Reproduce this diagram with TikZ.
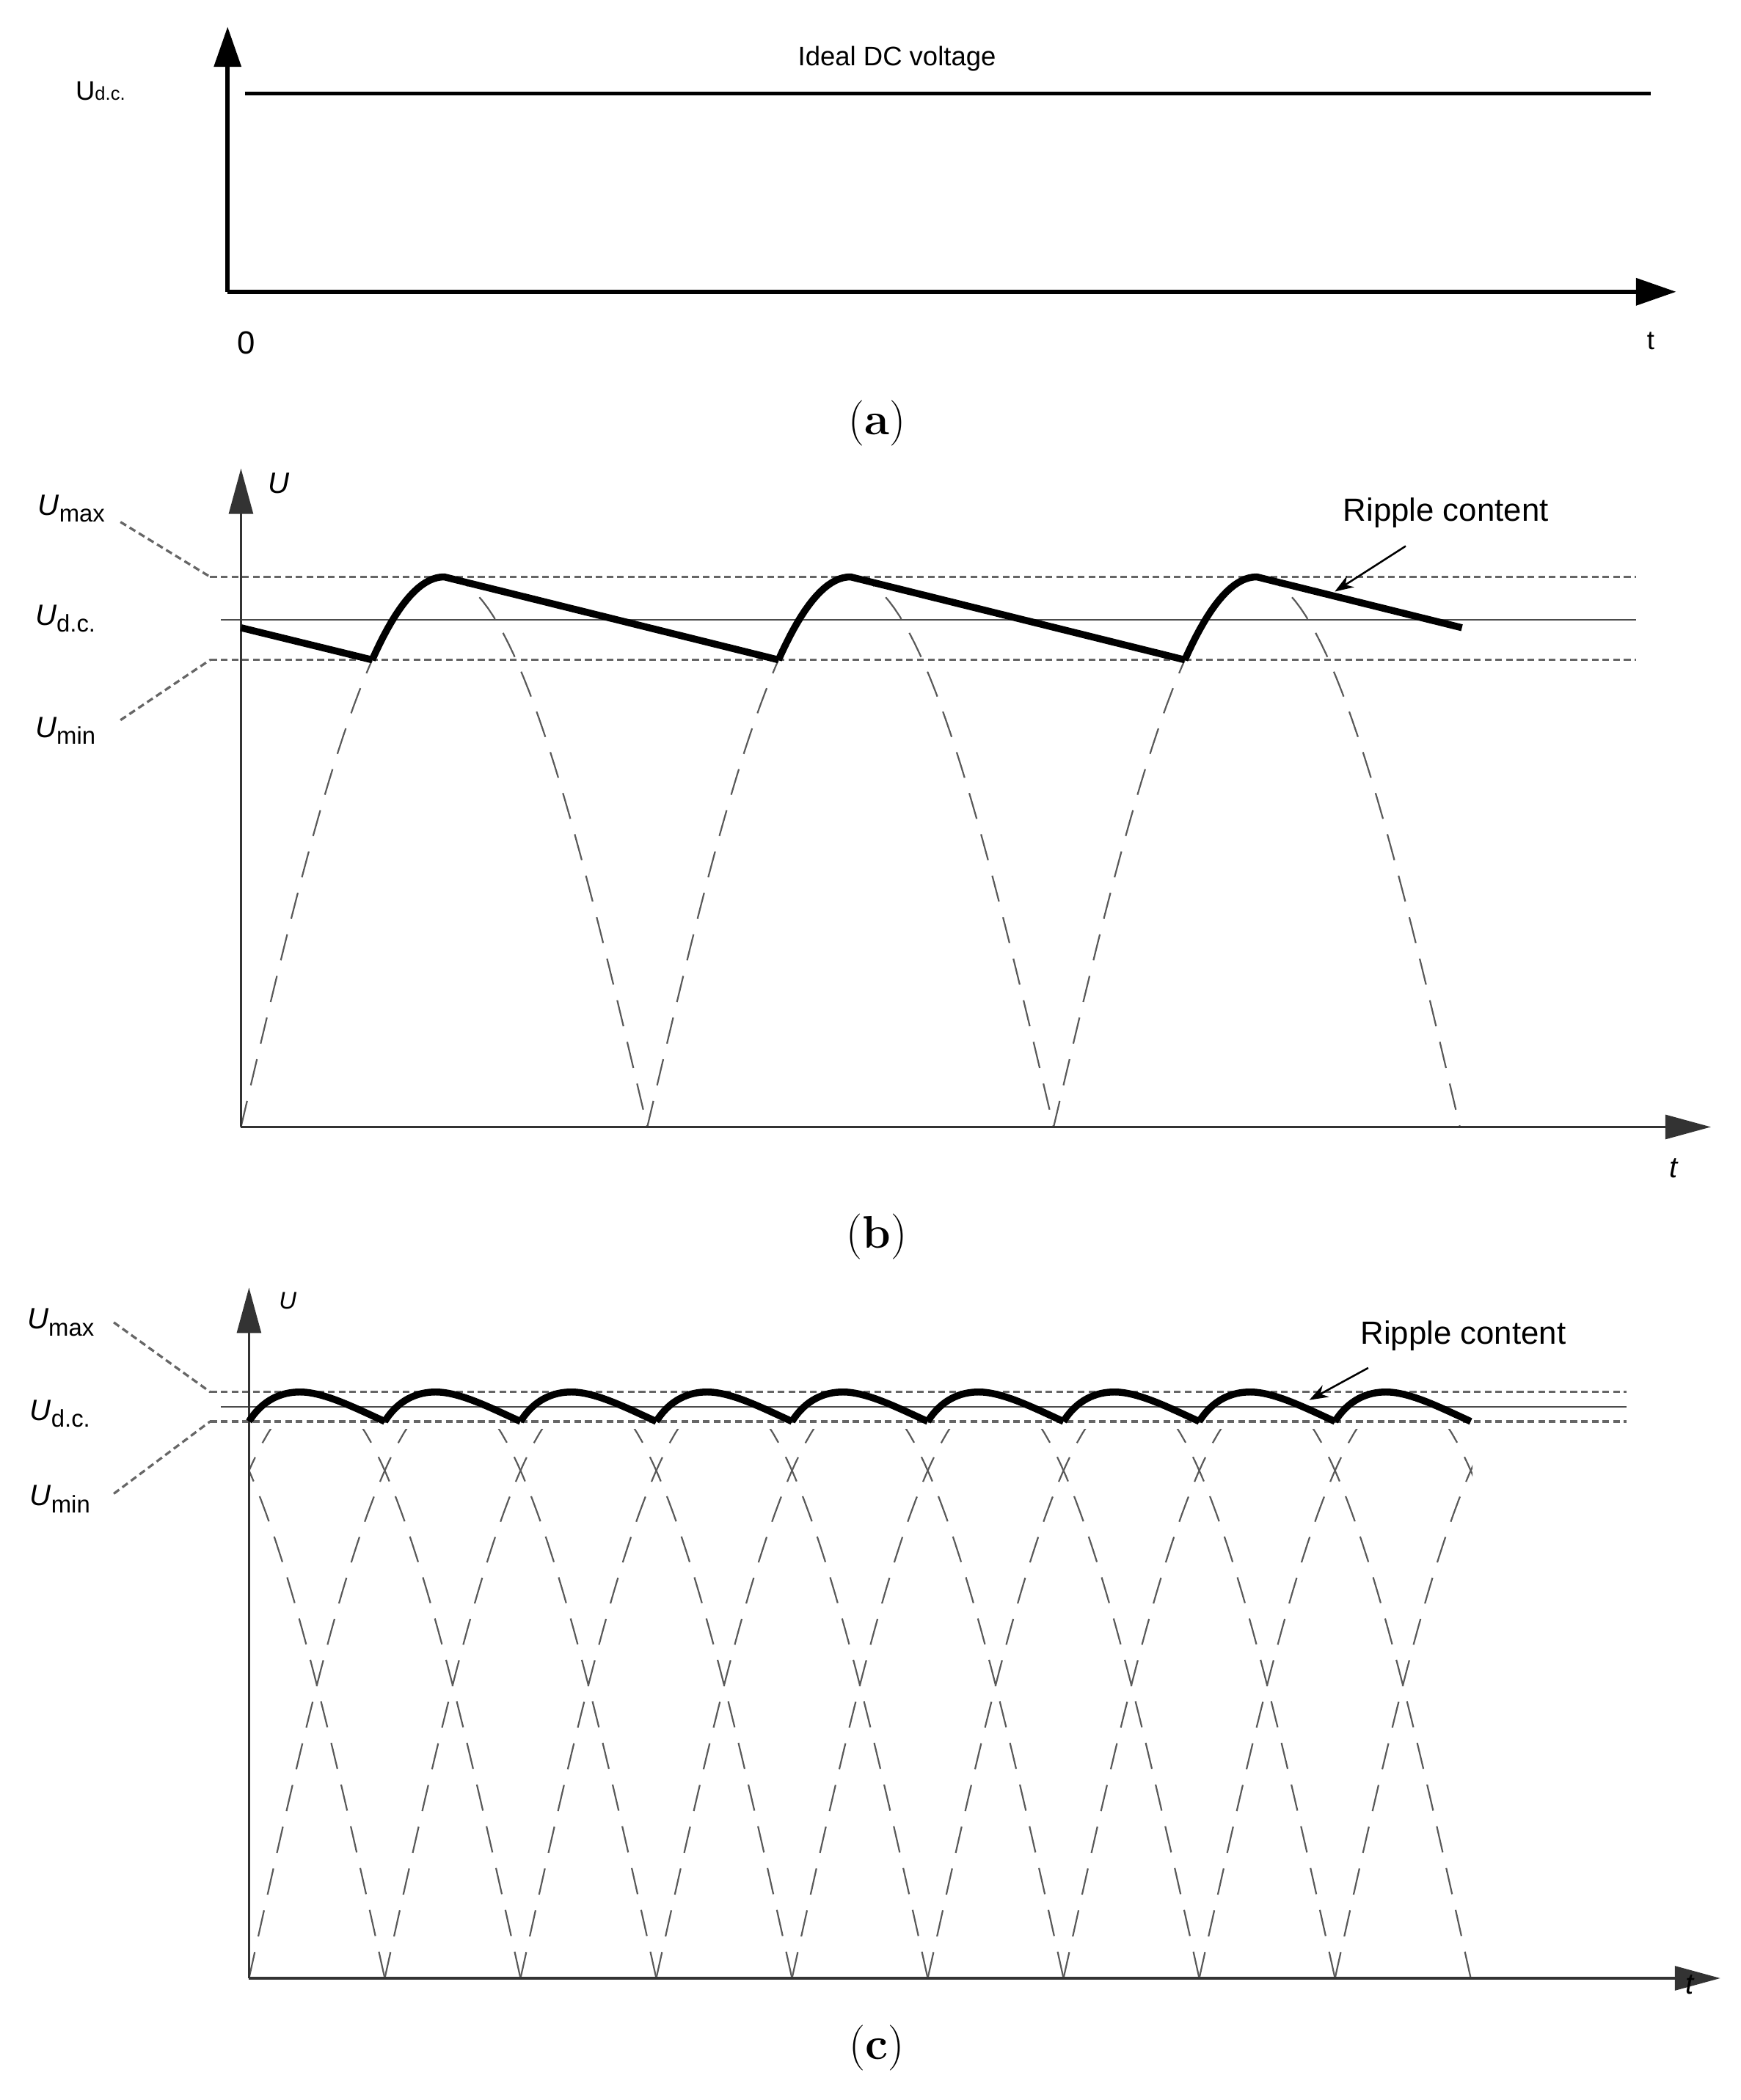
\documentclass[tikz,border=0pt]{standalone}
\usepackage{fontspec}
\setsansfont{Liberation Sans}
\usetikzlibrary{arrows.meta}
\begin{document}
\begin{tikzpicture}[x=0.5pt,y=-0.5pt,
  axis/.style={draw=black!80,line width=0.9pt},
  axA/.style={line width=1.5pt,-{Triangle[length=15pt,width=10pt]}},
  axB/.style={axis,-{Triangle[length=17pt,width=9pt]}},
  lim/.style={draw=black!60,line width=0.9pt,dash pattern=on 2.5pt off 1.5pt},
  dcl/.style={draw=black!70,line width=0.7pt},
  arch/.style={draw=black!65,line width=0.6pt,dash pattern=on 10pt off 6pt},
  ripple/.style={line width=2.6pt,line join=round},
  lab/.style={font=\sffamily\fontsize{11}{13}\selectfont,inner sep=0pt},
  captxt/.style={font=\fontsize{17}{20}\selectfont,inner sep=0pt},
  pt/.style={-{Stealth[length=7pt,width=5pt]},line width=0.7pt}]
\useasboundingbox (0,0) rectangle (1300,1569);
% ---------- (a)
\coordinate (a0) at (170,218);
\draw[axA] (a0) -- (170,20);
\draw[axA] (a0) -- (1252,218);
\draw[line width=1.3pt] (183,70) -- (1233,70);
\node[lab,font=\sffamily\fontsize{10}{12}\selectfont] (ta) at (670,44) {Ideal DC voltage};
\node[lab,font=\sffamily\fontsize{10}{12}\selectfont] (udca) at (75,68) {U{\fontsize{7}{8}\selectfont d.c.}};
\node[lab,font=\sffamily\fontsize{12}{14}\selectfont] (za) at (184,256) {0};
\node[lab,font=\sffamily\fontsize{10}{12}\selectfont] (tta) at (1233,255) {t};
\node[captxt] (capa) at (655,316) {(\textbf{a})};
% ---------- (b)
\foreach \k in {0,1,2}{
  \pgfmathsetmacro{\xo}{180+303.5*\k}
  \draw[arch] plot[domain=0:180,samples=80] ({\xo+\x/180*303.5},{842-411*sin(\x)});
}
\draw[lim] (157,431) -- (1222,431);
\draw[lim] (157,493) -- (1222,493);
\draw[lim] (90,390) -- (157,431);
\draw[lim] (90,538) -- (157,493);
\draw[dcl] (165,463) -- (1222,463);
\draw[axB] (180,842) -- (180,350);
\draw[axB] (180,842) -- (1278,842);
\draw[ripple] (180,469) -- (278,493)
  plot[domain=58.1:90,samples=20] ({180+\x/180*303.5},{842-411*sin(\x)})
  -- (581.5,493)
  plot[domain=58.1:90,samples=20] ({483.5+\x/180*303.5},{842-411*sin(\x)})
  -- (885,493)
  plot[domain=58.1:90,samples=20] ({787+\x/180*303.5},{842-411*sin(\x)})
  -- (1092,469);
\node[lab,anchor=west] (umaxb) at (28,380) {\itshape U\upshape\fontsize{9}{10}\selectfont\raisebox{-2.5pt}{max}};
\node[lab,anchor=west] (udcb) at (26,462) {\itshape U\upshape\fontsize{9}{10}\selectfont\raisebox{-2.5pt}{d.c.}};
\node[lab,anchor=west] (uminb) at (26,546) {\itshape U\upshape\fontsize{9}{10}\selectfont\raisebox{-2.5pt}{min}};
\node[lab] (ub) at (208,361) {\itshape U};
\node[lab] (tb) at (1250,873) {\itshape t};
\node[lab,font=\sffamily\fontsize{12}{14}\selectfont] (rb) at (1080,383) {Ripple content};
\coordinate (rbt) at (997,442);
\draw[pt] (1050,408) -- (rbt);
\node[captxt] (capb) at (655,924) {(\textbf{b})};
% ---------- (c)
\pgfmathsetmacro{\s}{101.4}
\begin{scope}
\clip (186,1068) rectangle (1100,1480);
\foreach \j in {-2,...,8}{
  \pgfmathsetmacro{\xo}{186+\s*\j}
  \draw[arch] plot[domain=0:180,samples=80] ({\xo+\x/180*3*\s},{1478-438*sin(\x)});
}
\end{scope}
\draw[lim] (157,1040) -- (1215,1040);
\draw[lim] (157,1062) -- (1215,1062);
\draw[lim] (85,988) -- (157,1040);
\draw[lim] (85,1116) -- (157,1062);
\draw[dcl] (165,1051) -- (1215,1051);
\draw[axB] (186,1478) -- (186,962);
\draw[axB] (186,1478) -- (1285,1478);
\foreach \j in {0,...,8}{
  \pgfmathsetmacro{\xa}{186+\s*\j}
  \pgfmathsetmacro{\xb}{186+\s*(\j+1)}
  \draw[ripple] (\xa,1062) .. controls (\xa+10,1046) and (\xa+24,1040) .. (\xa+38,1040)
     .. controls (\xa+56,1040) and (\xb-22,1052) .. (\xb,1062);
}
\node[lab,anchor=west] (umaxc) at (20,988) {\itshape U\upshape\fontsize{9}{10}\selectfont\raisebox{-2.5pt}{max}};
\node[lab,anchor=west] (udcc) at (22,1056) {\itshape U\upshape\fontsize{9}{10}\selectfont\raisebox{-2.5pt}{d.c.}};
\node[lab,anchor=west] (uminc) at (22,1120) {\itshape U\upshape\fontsize{9}{10}\selectfont\raisebox{-2.5pt}{min}};
\node[lab,font=\sffamily\fontsize{9}{10}\selectfont] (uc) at (215,972) {\itshape U};
\node[lab] (tc) at (1262,1483) {\itshape t};
\node[lab,font=\sffamily\fontsize{12}{14}\selectfont] (rc) at (1093,998) {Ripple content};
\coordinate (rct) at (978,1046);
\draw[pt] (1022,1022) -- (rct);
\node[captxt] (capc) at (655,1530) {(\textbf{c})};
\end{tikzpicture}
\end{document}
